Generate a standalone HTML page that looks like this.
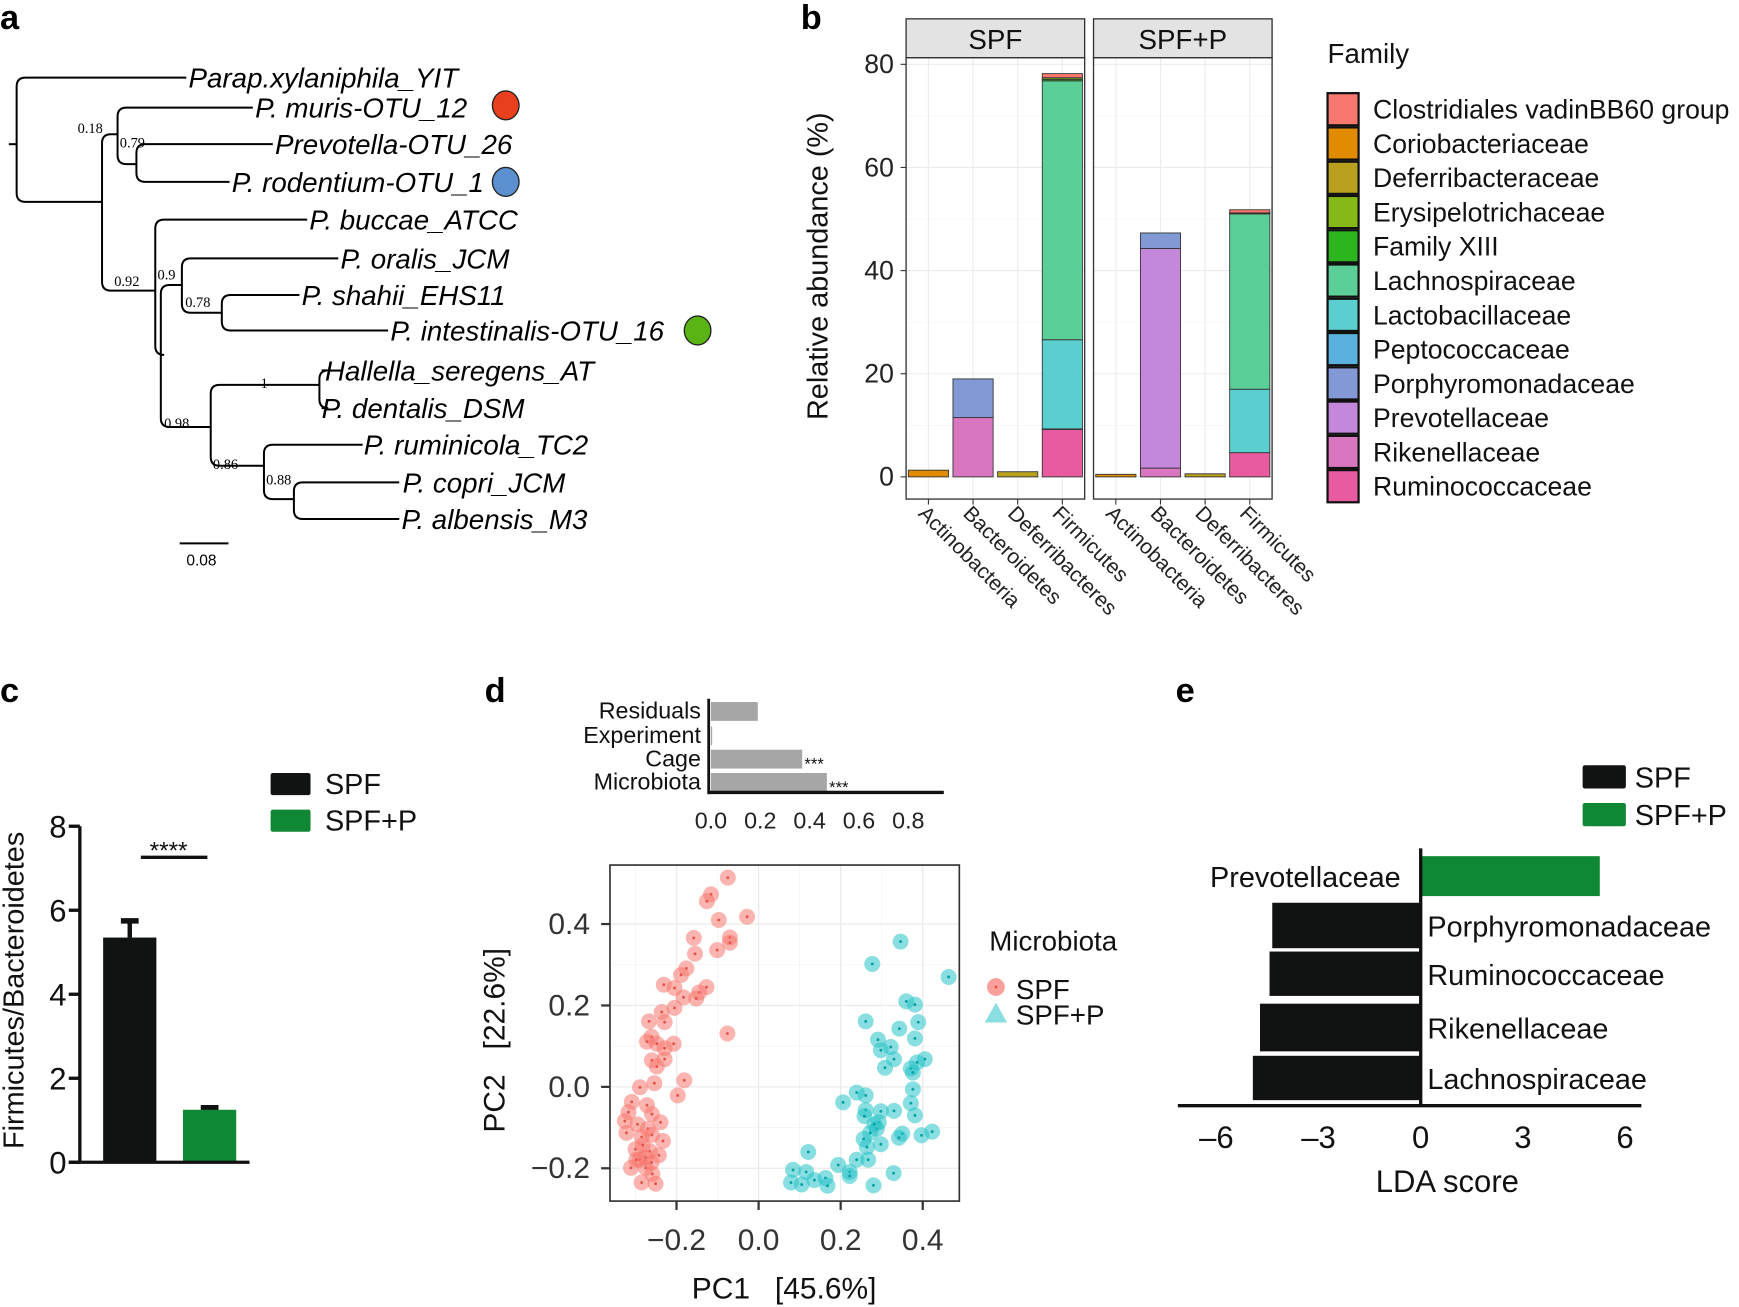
<!DOCTYPE html>
<html><head><meta charset="utf-8"><style>
html,body{margin:0;padding:0;background:#fff;}
svg{display:block;font-family:"Liberation Sans",sans-serif;}
.pre{white-space:pre;}
</style></head><body>
<svg id="fig" width="1739" height="1307" viewBox="0 0 1568 1178.5" preserveAspectRatio="none" xmlns="http://www.w3.org/2000/svg">
<rect width="1568" height="1178.5" fill="#fff"/>
<g id="pa"></g>
<g id="pb"></g>
<g id="pc"></g>
<g id="pd"></g>
<g id="pe"></g>
</svg>
<script>
// ---------- Panel b data ----------
const bFamilies = ["Clostridiales vadinBB60 group","Coriobacteriaceae","Deferribacteraceae","Erysipelotrichaceae","Family XIII","Lachnospiraceae","Lactobacillaceae","Peptococcaceae","Porphyromonadaceae","Prevotellaceae","Rikenellaceae","Ruminococcaceae"];
const bColors = ["#f8776e","#e08b00","#b9a11f","#86b918","#2db51f","#5ccf98","#5bcfd0","#5ab1dd","#8299d6","#c488da","#d876bf","#e85ba1"];
const bPhyla = ["Actinobacteria","Bacteroidetes","Deferribacteres","Firmicutes"];
const bPanels = ["SPF","SPF+P"];
const bClostr  = [0,0,0,0.8, 0,0,0,0.6];
const bCorio   = [1.3,0,0,0, 0.5,0,0,0];
const bDeferr  = [0,0,1.0,0, 0,0,0.6,0];
const bErysip  = [0,0,0,0.3, 0,0,0,0.1];
const bFamXIII = [0,0,0,0.3, 0,0,0,0.1];
const bLachno  = [0,0,0,50.2, 0,0,0,34];
const bLacto   = [0,0,0,17.3, 0,0,0,12.3];
const bPepto   = [0,0,0,0.1, 0,0,0,0];
const bPorphyro= [0,7.5,0,0, 0,3.0,0,0];
const bPrevot  = [0,0,0,0, 0,42.6,0,0];
const bRiken   = [0,11.5,0,0, 0,1.7,0,0];
const bRumino  = [0,0,0,9.2, 0,0,0,4.7];
const bYTicks = [0,20,40,60,80];
// ---------- Panel c data ----------
const cGroups = ["SPF","SPF+P"];
const cValues = [5.35,1.25];
const cErrors = [0.45,0.1];
const cTicks = [0,2,4,6,8];
// ---------- Panel d data ----------
const dTerms = ["Residuals","Experiment","Cage","Microbiota"];
const dR2 = [0.19,0.005,0.37,0.47];
const dSig = ["","","***","***"];
const dTicks = [0.0,0.2,0.4,0.6,0.8];
const pcaXTicks = [-0.2,0.0,0.2,0.4];
const pcaYTicks = [-0.2,0.0,0.2,0.4];
const spfX = [-0.075,-0.116,-0.126,-0.028,-0.097,-0.158,-0.07,-0.07,-0.101,-0.155,-0.176,-0.189,-0.231,-0.205,-0.127,-0.145,-0.152,-0.183,-0.205,-0.236,-0.267,-0.229,-0.076,-0.261,-0.272,-0.248,-0.207,-0.229,-0.26,-0.229,-0.248,-0.181,-0.254,-0.289,-0.197,-0.309,-0.272,-0.317,-0.26,-0.326,-0.239,-0.295,-0.27,-0.285,-0.26,-0.233,-0.3,-0.265,-0.243,-0.29,-0.311,-0.275,-0.259,-0.285,-0.251,-0.322,-0.298,-0.275,-0.282,-0.261];
const spfY = [0.514,0.473,0.456,0.418,0.41,0.366,0.367,0.354,0.336,0.327,0.291,0.275,0.251,0.243,0.245,0.232,0.217,0.22,0.194,0.184,0.161,0.159,0.131,0.123,0.111,0.106,0.106,0.095,0.065,0.068,0.05,0.016,0.009,-0.001,-0.021,-0.037,-0.045,-0.062,-0.067,-0.084,-0.087,-0.092,-0.103,-0.123,-0.118,-0.133,-0.153,-0.158,-0.168,-0.179,-0.199,-0.199,-0.214,-0.235,-0.238,-0.113,-0.179,-0.174,-0.143,-0.186];
const spfpX = [0.346,0.277,0.463,0.36,0.381,0.261,0.389,0.343,0.381,0.291,0.322,0.298,0.33,0.405,0.386,0.308,0.371,0.376,0.376,0.239,0.261,0.206,0.371,0.261,0.298,0.33,0.381,0.258,0.293,0.288,0.272,0.35,0.397,0.423,0.256,0.342,0.298,0.264,0.121,0.239,0.267,0.194,0.222,0.329,0.084,0.116,0.163,0.136,0.079,0.105,0.168,0.28,0.222,0.282];
const spfpY = [0.357,0.302,0.27,0.21,0.202,0.161,0.159,0.143,0.119,0.116,0.098,0.09,0.068,0.068,0.06,0.047,0.045,0.035,-0.006,-0.014,-0.021,-0.038,-0.04,-0.057,-0.06,-0.059,-0.07,-0.072,-0.087,-0.103,-0.113,-0.115,-0.119,-0.11,-0.128,-0.125,-0.141,-0.148,-0.16,-0.179,-0.179,-0.192,-0.209,-0.212,-0.204,-0.209,-0.224,-0.229,-0.235,-0.24,-0.243,-0.242,-0.219,-0.092];
// ---------- Panel e data ----------
const eTaxa = ["Prevotellaceae","Porphyromonadaceae","Ruminococcaceae","Rikenellaceae","Lachnospiraceae"];
const eScores = [5.26,-4.36,-4.44,-4.72,-4.93];
const eTicks = [-6,-3,0,3,6];

const NS="http://www.w3.org/2000/svg";
function mk(parent, tag, attrs, text){
  const e=document.createElementNS(NS,tag);
  for(const k in attrs) e.setAttribute(k,attrs[k]);
  if(text!==undefined) e.textContent=text;
  parent.appendChild(e); return e;
}
const svg=document.getElementById('fig');
[["a",0,26],["b",722,26],["c",0,633],["d",437,633],["e",1060,633]].forEach(p=>{
  const t=mk(svg,'text',{x:p[1],y:p[2],'font-size':31,'font-weight':'bold',fill:'#000'},p[0]);
  
  
});

// ---------- Panel a tree ----------
(function(){
  const g=document.getElementById('pa');
  const st={stroke:'#000','stroke-width':1.8,fill:'none'};
  function elbow(x,y1,y2,xe){
    const r=Math.min(8,Math.abs(y2-y1));
    const s=y2>y1?1:-1;
    return `M${x},${y1} L${x},${y2-s*r} Q${x},${y2} ${x+r},${y2} L${xe},${y2}`;
  }
  function node(x,ym,ytop,ybot,xt,xb){
    const p=mk(g,'path',Object.assign({d:elbow(x,ym,ytop,xt)+' '+elbow(x,ym,ybot,xb)},st));
    
    
  }
  mk(g,'line',Object.assign({x1:8,y1:130,x2:15,y2:130},st));
  node(15,130,70,182,168,92);
  node(92,182,121,262,106,140);
  node(106,121,97,148,228,123);
  node(123,148,130,164,246,207);
  node(140,262,198,320,277,145);
  node(145,320,257,385,164,190);
  node(164,257,233,282,305,200);
  node(200,282,266,298,270,350);
  node(190,385,347,420,288,238);
  node(288,347,334,368,290,290);
  node(238,420,401,450,327,265);
  node(265,450,435,468,360,360);
  const leaves=[["Parap.xylaniphila_YIT",170,70],["P. muris-OTU_12",230,97],["Prevotella-OTU_26",248,130],["P. rodentium-OTU_1",209,164],["P. buccae_ATCC",279,198],["P. oralis_JCM",307,233],["P. shahii_EHS11",272,266],["P. intestinalis-OTU_16",352,298],["Hallella_seregens_AT",293,334],["P. dentalis_DSM",290,368],["P. ruminicola_TC2",328,401],["P. copri_JCM",363,435],["P. albensis_M3",362,468]];
  leaves.forEach(l=>{
    const t=mk(g,'text',{x:l[1],y:l[2]+9,'font-size':25,'font-style':'italic',fill:'#000'},l[0]);
    
    
  });
  const nl=[["0.18",70,120],["0.79",108,133],["0.92",103,258],["0.9",142,252],["0.78",167,277],["1",235,350],["0.98",148,386],["0.86",192,423],["0.88",240,437]];
  nl.forEach(l=>{
    const t=mk(g,'text',{x:l[1],y:l[2],'font-size':13,'font-family':'Liberation Serif, serif',fill:'#000'},l[0]);
    
    
  });
  [[456,95,"#e8401c"],[456,164,"#5b8fd0"],[629,298,"#5ab415"]].forEach(d=>{
    const c=mk(g,'ellipse',{cx:d[0],cy:d[1],rx:12,ry:13,fill:d[2],stroke:'#222','stroke-width':1.2});
    
    
  });
  mk(g,'line',Object.assign({x1:162,y1:490,x2:206,y2:490},st));
  mk(g,'text',{x:168,y:510,'font-size':14,fill:'#000'},"0.08");
})();

// ---------- Panel b ----------
(function(){
  const g=document.getElementById('pb');
  const y0=430, yPer=(430-58)/80, top=52, bot=450;
  const ys=v=>y0-v*yPer;
  const panelX=[[817,978],[986,1147]];
  const famData=[bClostr,bCorio,bDeferr,bErysip,bFamXIII,bLachno,bLacto,bPepto,bPorphyro,bPrevot,bRiken,bRumino];
  panelX.forEach((px,pi)=>{
    mk(g,'rect',{x:px[0],y:top,width:px[1]-px[0],height:bot-top,fill:'#fff'});
    for(let v=0;v<=80;v+=10){
      const l=mk(g,'line',{x1:px[0],x2:px[1],y1:ys(v),y2:ys(v),stroke:v%20?'#f4f4f4':'#ebebeb','stroke-width':v%20?0.6:1});
      
      
    }
    const band=(px[1]-px[0])/bPhyla.length;
    bPhyla.forEach((ph,i)=>{
      const cx=px[0]+band*(i+0.5);
      mk(g,'line',{x1:cx,x2:cx,y1:top,y2:bot,stroke:'#ebebeb','stroke-width':1});
    });
    bPhyla.forEach((ph,i)=>{
      const cx=px[0]+band*(i+0.5), w=band*0.9;
      const idx=pi*4+i;
      let acc=0;
      for(let f=famData.length-1;f>=0;f--){
        const v=famData[f][idx]; if(!v) continue;
        const r=mk(g,'rect',{x:cx-w/2,y:ys(acc+v),width:w,height:v*yPer,fill:bColors[f],stroke:'#333','stroke-width':0.8});
        
        
        acc+=v;
      }
      mk(g,'line',{x1:cx,x2:cx,y1:bot,y2:bot+5,stroke:'#333','stroke-width':1});
      const t=mk(g,'text',{x:cx-10,y:bot+14,'font-size':19,fill:'#222',transform:`rotate(45 ${cx-10} ${bot+14})`},ph);
      
      
    });
    mk(g,'rect',{x:px[0],y:top,width:px[1]-px[0],height:bot-top,fill:'none',stroke:'#333','stroke-width':1.2});
    const s=mk(g,'rect',{x:px[0],y:17,width:px[1]-px[0],height:35,fill:'#e3e3e3',stroke:'#333','stroke-width':1.2});
    
    
    mk(g,'text',{x:(px[0]+px[1])/2,y:44,'font-size':25,'text-anchor':'middle',fill:'#111'},bPanels[pi]);
  });
  bYTicks.forEach(v=>{
    mk(g,'line',{x1:812,x2:817,y1:ys(v),y2:ys(v),stroke:'#333','stroke-width':1});
    const t=mk(g,'text',{x:806,y:ys(v)+8,'font-size':24,'text-anchor':'end',fill:'#222'},v);
    
    
  });
  const yt=mk(g,'text',{x:746,y:240,'font-size':26,'text-anchor':'middle',fill:'#111',transform:'rotate(-90 746 240)'},"Relative abundance (%)");
  
  
  mk(g,'text',{x:1197,y:57,'font-size':25,fill:'#111'},"Family");
  bFamilies.forEach((f,i)=>{
    const y=84+i*30.9;
    const r=mk(g,'rect',{x:1197,y:y,width:28,height:29,fill:bColors[i],stroke:'#111','stroke-width':2});
    
    
    const t=mk(g,'text',{x:1238,y:y+23,'font-size':24,fill:'#111'},f);
    
    
  });
})();

// ---------- Panel c ----------
(function(){
  const g=document.getElementById('pc');
  const x0=72, yb=1048, per=(1048-745)/8;
  const ys=v=>yb-v*per;
  const barX=[93,165], bw=48, cols=["#111312","#0f8735"];
  cGroups.forEach((gn,i)=>{
    const top=ys(cValues[i]+cErrors[i]);
    mk(g,'line',{x1:barX[i]+bw/2,x2:barX[i]+bw/2,y1:ys(cValues[i]),y2:top,stroke:'#111','stroke-width':4});
    mk(g,'line',{x1:barX[i]+bw/2-8,x2:barX[i]+bw/2+8,y1:top+2,y2:top+2,stroke:'#111','stroke-width':5});
    const r=mk(g,'rect',{x:barX[i],y:ys(cValues[i]),width:bw,height:cValues[i]*per,fill:cols[i]});
    
    
  });
  mk(g,'line',{x1:x0,x2:x0,y1:745,y2:yb,stroke:'#111','stroke-width':3});
  mk(g,'line',{x1:x0-10,x2:225,y1:yb,y2:yb,stroke:'#111','stroke-width':3});
  cTicks.forEach(v=>{
    mk(g,'line',{x1:x0-10,x2:x0,y1:ys(v),y2:ys(v),stroke:'#111','stroke-width':3});
    const t=mk(g,'text',{x:60,y:ys(v)+10,'font-size':28,'text-anchor':'end',fill:'#111'},v);
    
    
  });
  const yt=mk(g,'text',{x:21,y:893,'font-size':26,'text-anchor':'middle',fill:'#111',transform:'rotate(-90 21 893)'},"Firmicutes/Bacteroidetes");
  
  
  mk(g,'line',{x1:127,x2:187,y1:773,y2:773,stroke:'#111','stroke-width':3});
  mk(g,'text',{x:152,y:774,'font-size':22,'text-anchor':'middle',fill:'#111'},"****");
  [["SPF",697,cols[0]],["SPF+P",730,cols[1]]].forEach(l=>{
    mk(g,'rect',{x:244,y:l[1],width:36,height:20,rx:2,fill:l[2]});
    const t=mk(g,'text',{x:293,y:l[1]+19,'font-size':26,fill:'#111'},l[0]);
    
    
  });
})();

// ---------- Panel d ----------
(function(){
  const g=document.getElementById('pd');
  const bx0=641, per=(819-641)/0.8;
  const xs=v=>bx0+v*per;
  const rowY=[633,655,676,697], rh=17;
  dTerms.forEach((t,i)=>{
    const r=mk(g,'rect',{x:bx0,y:rowY[i],width:Math.max(dR2[i]*per,1),height:rh,fill:'#a6a6a6'});
    
    
    const l=mk(g,'text',{x:632,y:rowY[i]+15,'font-size':21,'text-anchor':'end',fill:'#111'},t);
    
    
    if(dSig[i]) mk(g,'text',{x:xs(dR2[i])+2,y:rowY[i]+18,'font-size':15,fill:'#111'},dSig[i]);
  });
  mk(g,'line',{x1:639,x2:639,y1:630,y2:716,stroke:'#111','stroke-width':2.5});
  mk(g,'line',{x1:638,x2:851,y1:714.5,y2:714.5,stroke:'#111','stroke-width':3});
  dTicks.forEach(v=>{
    const t=mk(g,'text',{x:xs(v),y:747,'font-size':21,'text-anchor':'middle',fill:'#222'},v.toFixed(1));
    
    
  });
  const L=550,R=865,T=780,B=1083;
  const px=v=>684+v*370, py=v=>980-v*367;
  mk(g,'rect',{x:L,y:T,width:R-L,height:B-T,fill:'#fff'});
  for(let v=-0.3;v<=0.45;v+=0.1){
    const x=px(v); if(x>L&&x<R) mk(g,'line',{x1:x,x2:x,y1:T,y2:B,stroke:'#f3f3f3','stroke-width':0.7});
    const y=py(v); if(y>T&&y<B) mk(g,'line',{x1:L,x2:R,y1:y,y2:y,stroke:'#f3f3f3','stroke-width':0.7});
  }
  pcaXTicks.forEach(v=>{
    mk(g,'line',{x1:px(v),x2:px(v),y1:T,y2:B,stroke:'#ebebeb','stroke-width':1.2});
    mk(g,'line',{x1:px(v),x2:px(v),y1:B,y2:B+8,stroke:'#333','stroke-width':2});
    const t=mk(g,'text',{x:px(v),y:1127,'font-size':27,'text-anchor':'middle',fill:'#333'},v.toFixed(1).replace('-','\u2212'));
    
    
  });
  pcaYTicks.forEach(v=>{
    mk(g,'line',{x1:L,x2:R,y1:py(v),y2:py(v),stroke:'#ebebeb','stroke-width':1.2});
    mk(g,'line',{x1:L-8,x2:L,y1:py(v),y2:py(v),stroke:'#333','stroke-width':2});
    const t=mk(g,'text',{x:L-18,y:py(v)+9,'font-size':27,'text-anchor':'end',fill:'#333'},v.toFixed(1).replace('-','\u2212'));
    
    
  });
  function pts(X,Y,col,dot,name){
    X.forEach((x,i)=>{
      const c=mk(g,'circle',{cx:px(x),cy:py(Y[i]),r:7.2,fill:col,'fill-opacity':0.55});
      
      
      mk(g,'circle',{cx:px(x),cy:py(Y[i]),r:1.3,fill:dot});
    });
  }
  pts(spfX,spfY,'#f8766d','#e0554b','point-spf');
  pts(spfpX,spfpY,'#27c3c6','#0a9fa2','point-spf-p');
  mk(g,'rect',{x:L,y:T,width:R-L,height:B-T,fill:'none',stroke:'#333','stroke-width':1.5});
  const xt=mk(g,'text',{x:707,y:1171,'font-size':27,'text-anchor':'middle',fill:'#111','class':'pre'},"PC1   [45.6%]");
  
  
  const yt=mk(g,'text',{x:455,y:938,'font-size':27,'text-anchor':'middle',fill:'#111','class':'pre',transform:'rotate(-90 455 938)'},"PC2   [22.6%]");
  
  
  mk(g,'text',{x:892,y:857,'font-size':25,fill:'#111'},"Microbiota");
  mk(g,'circle',{cx:898,cy:890,r:8,fill:'#f8766d','fill-opacity':0.7});
  mk(g,'circle',{cx:898,cy:890,r:1.3,fill:'#e0554b'});
  mk(g,'polygon',{points:'888,922 898,904 908,922',fill:'#27c3c6','fill-opacity':0.55});
  mk(g,'text',{x:916,y:901,'font-size':25,fill:'#111'},"SPF");
  mk(g,'text',{x:916,y:924,'font-size':25,fill:'#111'},"SPF+P");
})();

// ---------- Panel e ----------
(function(){
  const g=document.getElementById('pe');
  const x0=1281, per=30.7, ax=997;
  const xs=v=>x0+v*per;
  const rows=[[772,808],[814,855],[858,898],[905,948],[952,992]];
  eTaxa.forEach((t,i)=>{
    const v=eScores[i];
    const r=mk(g,'rect',{x:Math.min(xs(v),x0),y:rows[i][0],width:Math.abs(v)*per,height:rows[i][1]-rows[i][0],fill:v>0?'#0f8735':'#111312'});
    
    
    const yc=(rows[i][0]+rows[i][1])/2+10;
    const l=mk(g,'text',{x:v>0?x0-18:x0+6,y:yc,'font-size':26,'text-anchor':v>0?'end':'start',fill:'#111'},t);
    
    
  });
  mk(g,'line',{x1:x0,x2:x0,y1:765,y2:ax,stroke:'#111','stroke-width':3});
  mk(g,'line',{x1:1062,x2:1480,y1:ax,y2:ax,stroke:'#111','stroke-width':3});
  eTicks.forEach(v=>{
    const t=mk(g,'text',{x:xs(v),y:1035,'font-size':28,'text-anchor':'middle',fill:'#111'},(v<0?'\u2013':'')+Math.abs(v));
    
    
  });
  mk(g,'text',{x:1305,y:1075,'font-size':28,'text-anchor':'middle',fill:'#111'},"LDA score");
  [["SPF",690,'#111312'],["SPF+P",724,'#0f8735']].forEach(l=>{
    mk(g,'rect',{x:1427,y:l[1],width:39,height:21,rx:2,fill:l[2]});
    const t=mk(g,'text',{x:1474,y:l[1]+20,'font-size':26,fill:'#111'},l[0]);
    
    
  });
})();
</script>
</body></html>
